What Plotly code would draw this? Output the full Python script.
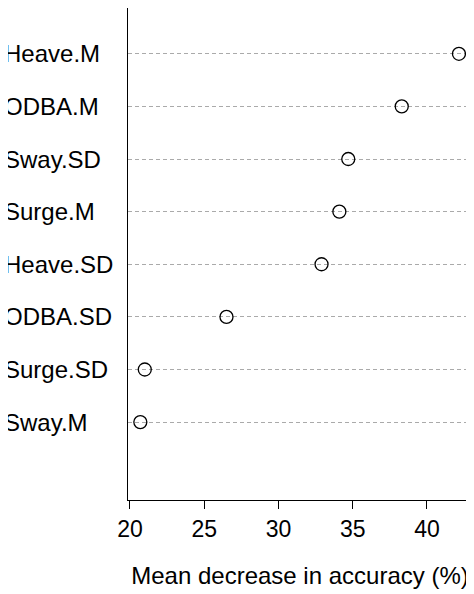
import plotly.graph_objects as go

variables = ["Sway.M", "Surge.SD", "ODBA.SD", "Heave.SD", "Surge.M", "Sway.SD", "ODBA.M", "Heave.M"]
accuracy = [20.7, 21.0, 26.5, 32.9, 34.1, 34.7, 38.3, 42.15]
x_ticks = [20, 25, 30, 35, 40]

# page has an 8px body margin, so the figure is sized to fit inside it
W, H = 466, 586
ml, mr, mt, mb = 120, 2, 0, 94
pw = W - ml - mr

fig = go.Figure()
fig.add_trace(go.Scatter(
    x=accuracy, y=list(range(len(variables))), mode="markers",
    marker=dict(symbol="circle-open", size=13, color="black", line=dict(width=1.3)),
    showlegend=False, cliponaxis=False))

for i, name in enumerate(variables):
    fig.add_annotation(x=-(ml + 6) / pw, xref="paper", y=i, yref="y", text=name,
                       showarrow=False, xanchor="left",
                       font=dict(family="Liberation Sans, Arial", size=24, color="black"))

fig.update_xaxes(range=[19.87, 43.03], tickvals=x_ticks, ticks="outside", ticklen=8,
                 tickcolor="black", showline=True, linecolor="black", mirror=True,
                 showgrid=False, zeroline=False, tickfont=dict(size=23, color="black"),
                 title=dict(text="Mean decrease in accuracy (%)", font=dict(size=24, color="black"), standoff=26))
fig.update_yaxes(range=[-1.48, 7.87], tickvals=list(range(len(variables))), showticklabels=False,
                 showline=True, linecolor="black", mirror=True, showgrid=True,
                 gridcolor="#aaaaaa", griddash="4px,3px", gridwidth=1, zeroline=False)
fig.update_layout(width=W, height=H, margin=dict(l=ml, r=mr, t=mt, b=mb),
                  plot_bgcolor="white", paper_bgcolor="white",
                  font=dict(family="Liberation Sans, Arial"))
fig.write_html("out.html")
